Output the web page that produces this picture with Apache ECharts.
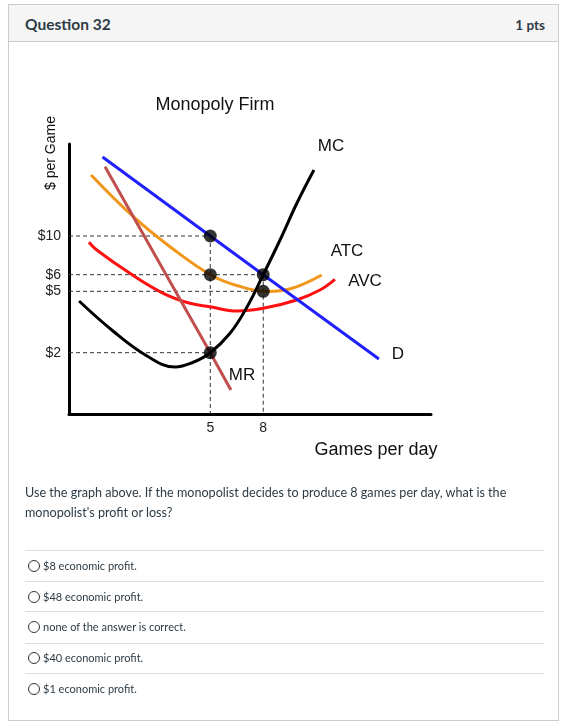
<!DOCTYPE html>
<html>
<head>
<meta charset="utf-8">
<script src="https://cdn.jsdelivr.net/npm/echarts@6/dist/echarts.min.js"></script>
<style>
  html, body { margin:0; padding:0; background:#fff; width:567px; height:722px; overflow:hidden; }
  #chart { position:absolute; left:0; top:0; width:567px; height:722px; z-index:0; }
  #box { position:absolute; left:8px; top:4px; width:549px; height:715px; border:1px solid #c7cdd1; z-index:1; pointer-events:none; font-family:Lato, sans-serif; color:#2d3b45; }
  #head { position:absolute; left:0; top:0; width:549px; height:36px; background:#f5f5f5; border-bottom:1px solid #c7cdd1; }
  #qtitle { position:absolute; left:16px; top:9px; font-weight:700; font-size:15.5px; line-height:20px; }
  #pts { position:absolute; right:13px; top:10px; font-weight:700; font-size:13.5px; line-height:20px; }
  #qtext { position:absolute; left:16px; top:478px; width:520px; font-size:12.6px; line-height:20px; }
  .sep { position:absolute; left:16px; width:519px; height:1px; background:#dcdfe2; }
  .opt { position:absolute; left:19px; height:14px; font-size:11px; line-height:14px; white-space:nowrap; }
  .opt .r { display:inline-block; width:10px; height:10px; border:1px solid #333; border-radius:50%; vertical-align:-2px; margin-right:3px; background:#fff; }
</style>
</head>
<body>
<div id="chart"></div>
<div id="box">
  <div id="head"><div id="qtitle">Question 32</div><div id="pts">1 pts</div></div>
  <div id="qtext">Use the graph above. If the monopolist decides to produce 8 games per day, what is the monopolist's profit or loss?</div>
  <div id="opts"></div>
</div>
<script>
// ---- data (x: games per day, y: graph height units; the drawing is not to scale) ----
const qtyTicks = [5, 8];
const priceLabels = ['$10', '$6', '$5', '$2'];
const priceLevels = [17.8, 13.93, 12.27, 6.13];

const demand = [[-1.1, 25.7], [5, 17.8], [8, 13.93], [14.55, 5.5]];
const marginalRevenue = [[-0.96, 24.73], [5, 6.13], [6.17, 2.4]];
const marginalCost = [[-2.43, 11.3], [-0.51, 8.3], [1.42, 5.8], [3.0, 4.7], [4.0, 5.15], [5, 6.13],
  [6.12, 8.07], [7.08, 10.7], [8, 13.93], [8.95, 17.4], [9.91, 21.1], [10.87, 24.4]];
const averageTotalCost = [[-1.75, 23.9], [0.64, 19.73], [2.72, 16.73], [5, 13.93],
  [6.5, 12.85], [8.2, 12.25], [9.6, 12.55], [11.31, 13.9]];
const averageVariableCost = [[-1.87, 17.17], [-1.43, 16.4], [0.45, 14.07], [2.34, 12.07], [3.85, 11.07],
  [4.98, 10.73], [6.5, 10.3], [8.0, 10.57], [9.89, 11.4], [11.21, 12.4], [12.06, 13.47]];
const keyPoints = [[5, 17.8], [5, 13.93], [5, 6.13], [8, 13.93], [8, 12.27]];

const guideH = [[5, 17.8], [8, 13.93], [8, 12.27], [5, 6.13]]; // horizontal guides from the price axis
const guideV = [[5, 17.8], [8, 13.93]];                         // vertical guides down to the quantity axis

const options = ['$8 economic profit.', '$48 economic profit.', 'none of the answer is correct.', '$40 economic profit.', '$1 economic profit.'];

// ---- page chrome ----
const optBox = document.getElementById('opts');
const sepTops = [545, 576, 606, 637.5, 668];
sepTops.forEach(function (t, i) {
  const s = document.createElement('div'); s.className = 'sep'; s.style.top = t + 'px'; optBox.appendChild(s);
  const o = document.createElement('div'); o.className = 'opt'; o.style.top = (t + 8.5) + 'px';
  o.innerHTML = '<span class="r"></span>' + options[i];
  optBox.appendChild(o);
});

// ---- chart ----
const xMin = -3, xMax = 17.5, yMin = 0, yMax = 27;
const dash = { color: '#333', width: 1, type: [4, 3] };
const guideSeries = [];
guideH.forEach(function (p) {
  guideSeries.push({ type: 'line', data: [[xMin, p[1]], p], symbol: 'none', lineStyle: dash, silent: true, z: 1 });
});
guideV.forEach(function (p) {
  guideSeries.push({ type: 'line', data: [p, [p[0], yMin]], symbol: 'none', lineStyle: dash, silent: true, z: 1 });
});

const chart = echarts.init(document.getElementById('chart'), null, { renderer: 'canvas' });
const font = 'Liberation Sans, Arial, sans-serif';
chart.setOption({
  animation: false,
  backgroundColor: '#fff',
  grid: { left: 69, top: 144, right: 136, bottom: 308, containLabel: false },
  xAxis: {
    type: 'value', min: xMin, max: xMax,
    axisLine: { show: true, onZero: false, lineStyle: { color: '#000', width: 3 } },
    axisTick: { show: false },
    splitLine: { show: false },
    axisLabel: { customValues: qtyTicks, color: '#222', fontSize: 14, fontFamily: font, margin: 7 }
  },
  yAxis: {
    type: 'value', min: yMin, max: yMax,
    axisLine: { show: true, onZero: false, lineStyle: { color: '#000', width: 3 } },
    axisTick: { show: false },
    splitLine: { show: false },
    axisLabel: {
      customValues: priceLevels, color: '#222', fontSize: 14, fontFamily: font, margin: 8,
      formatter: function (v) {
        let best = 0;
        priceLevels.forEach(function (l, i) { if (Math.abs(l - v) < Math.abs(priceLevels[best] - v)) best = i; });
        return priceLabels[best];
      }
    }
  },
  series: guideSeries.concat([
    { name: 'AVC', type: 'line', data: averageVariableCost, smooth: 0.4, symbol: 'none', lineStyle: { color: '#ff1010', width: 3 }, z: 2 },
    { name: 'ATC', type: 'line', data: averageTotalCost, smooth: 0.4, symbol: 'none', lineStyle: { color: '#f0961b', width: 3 }, z: 3 },
    { name: 'D', type: 'line', data: demand, symbol: 'none', lineStyle: { color: '#2020ff', width: 3 }, z: 4 },
    { name: 'MR', type: 'line', data: marginalRevenue, symbol: 'none', lineStyle: { color: '#c0504d', width: 3 }, z: 5 },
    { name: 'MC', type: 'line', data: marginalCost, smooth: 0.4, symbol: 'none', lineStyle: { color: '#000', width: 3 }, z: 6 },
    { name: 'points', type: 'scatter', data: keyPoints, symbol: 'circle', symbolSize: 13, itemStyle: { color: '#000' }, z: 7 }
  ]),
  graphic: [
    { type: 'text', x: 215, y: 105, style: { text: 'Monopoly Firm', font: '18px ' + font, fill: '#111', align: 'center', verticalAlign: 'middle' } },
    { type: 'text', x: 51, y: 153, rotation: Math.PI / 2, style: { text: '$ per Game', font: '14px ' + font, fill: '#111', align: 'center', verticalAlign: 'middle' } },
    { type: 'text', x: 376, y: 450, style: { text: 'Games per day', font: '18px ' + font, fill: '#111', align: 'center', verticalAlign: 'middle' } },
    { type: 'text', x: 331, y: 146, style: { text: 'MC', font: '17px ' + font, fill: '#111', align: 'center', verticalAlign: 'middle' } },
    { type: 'text', x: 347, y: 251, style: { text: 'ATC', font: '17px ' + font, fill: '#111', align: 'center', verticalAlign: 'middle' } },
    { type: 'text', x: 365, y: 281, style: { text: 'AVC', font: '17px ' + font, fill: '#111', align: 'center', verticalAlign: 'middle' } },
    { type: 'text', x: 398, y: 354, style: { text: 'D', font: '17px ' + font, fill: '#111', align: 'center', verticalAlign: 'middle' } },
    { type: 'text', x: 242, y: 375, style: { text: 'MR', font: '17px ' + font, fill: '#111', align: 'center', verticalAlign: 'middle' } }
  ]
});
</script>
</body>
</html>
